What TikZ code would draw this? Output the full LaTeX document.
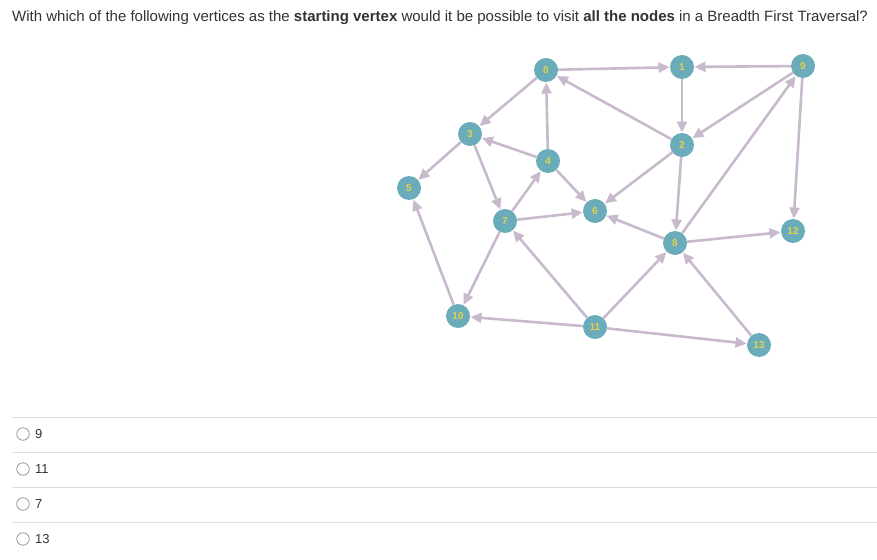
\documentclass[tikz,border=0pt]{standalone}
\usepackage{fontspec}
\setmainfont{Liberation Sans}
\usetikzlibrary{arrows.meta}
\definecolor{nodefill}{HTML}{6AACBA}
\definecolor{edgecol}{HTML}{C8B9CD}
\definecolor{numcol}{HTML}{E6D24A}
\definecolor{sepcol}{HTML}{DDDDDD}
\definecolor{txtcol}{HTML}{333333}
\tikzset{
  vtx/.style={circle, fill=nodefill, minimum size=24pt, inner sep=0pt, text=numcol, font=\fontsize{10}{11}\selectfont\bfseries},
  edge/.style={draw=edgecol, line width=2.6pt, -{Triangle[length=11pt,width=10pt]}, shorten >=0.3pt},
  radio/.style={circle, draw=gray!80, line width=0.8pt, minimum size=12.5pt, inner sep=0pt},
  opt/.style={anchor=base west, text=txtcol, font=\fontsize{13}{15}\selectfont, inner sep=0pt},
  sep/.style={draw=sepcol, line width=1pt}
}
\begin{document}
\begin{tikzpicture}[x=1pt,y=-1pt]
\useasboundingbox (0,0) rectangle (877,559);
\node[anchor=west, inner sep=0pt, text=txtcol, font=\fontsize{15}{17}\selectfont] (q) at (12,18) {With which of the following vertices as the \textbf{starting vertex} would it be possible to visit \textbf{all the nodes} in a Breadth First Traversal?};
% vertices
\node[vtx] (n0) at (546,70) {0};
\node[vtx] (n1) at (682,67) {1};
\node[vtx] (n9) at (803,66) {9};
\node[vtx] (n3) at (470,134) {3};
\node[vtx] (n2) at (682,145) {2};
\node[vtx] (n4) at (548,161) {4};
\node[vtx] (n5) at (409,188) {5};
\node[vtx] (n6) at (595,211) {6};
\node[vtx] (n7) at (505,221) {7};
\node[vtx] (n12) at (793,231) {12};
\node[vtx] (n8) at (675,243) {8};
\node[vtx] (n10) at (458,316) {10};
\node[vtx] (n11) at (595,327) {11};
\node[vtx] (n13) at (759,345) {13};
% edges
\draw[edge] (n0) -- (n1);
\draw[edge] (n9) -- (n1);
\draw[edge] (n1) -- (n2);
\draw[edge] (n9) -- (n2);
\draw[edge] (n2) -- (n0);
\draw[edge] (n0) -- (n3);
\draw[edge] (n4) -- (n0);
\draw[edge] (n4) -- (n3);
\draw[edge] (n3) -- (n5);
\draw[edge] (n3) -- (n7);
\draw[edge] (n7) -- (n4);
\draw[edge] (n4) -- (n6);
\draw[edge] (n7) -- (n6);
\draw[edge] (n2) -- (n6);
\draw[edge] (n8) -- (n6);
\draw[edge] (n2) -- (n8);
\draw[edge] (n8) -- (n9);
\draw[edge] (n9) -- (n12);
\draw[edge] (n8) -- (n12);
\draw[edge] (n11) -- (n8);
\draw[edge] (n13) -- (n8);
\draw[edge] (n11) -- (n13);
\draw[edge] (n11) -- (n7);
\draw[edge] (n11) -- (n10);
\draw[edge] (n7) -- (n10);
\draw[edge] (n10) -- (n5);
% answers
\coordinate (s1a) at (12,417); \coordinate (s1b) at (877,417);
\coordinate (s2a) at (12,452); \coordinate (s2b) at (877,452);
\coordinate (s3a) at (12,487); \coordinate (s3b) at (877,487);
\coordinate (s4a) at (12,522); \coordinate (s4b) at (877,522);
\draw[sep] (s1a) -- (s1b);
\draw[sep] (s2a) -- (s2b);
\draw[sep] (s3a) -- (s3b);
\draw[sep] (s4a) -- (s4b);
\node[radio] (r1) at (23,434) {};
\node[radio] (r2) at (23,469) {};
\node[radio] (r3) at (23,504) {};
\node[radio] (r4) at (23,539) {};
\node[opt] (o1) at (35,438) {9};
\node[opt] (o2) at (35,473) {11};
\node[opt] (o3) at (35,508) {7};
\node[opt] (o4) at (35,543) {13};
\end{tikzpicture}
\end{document}
